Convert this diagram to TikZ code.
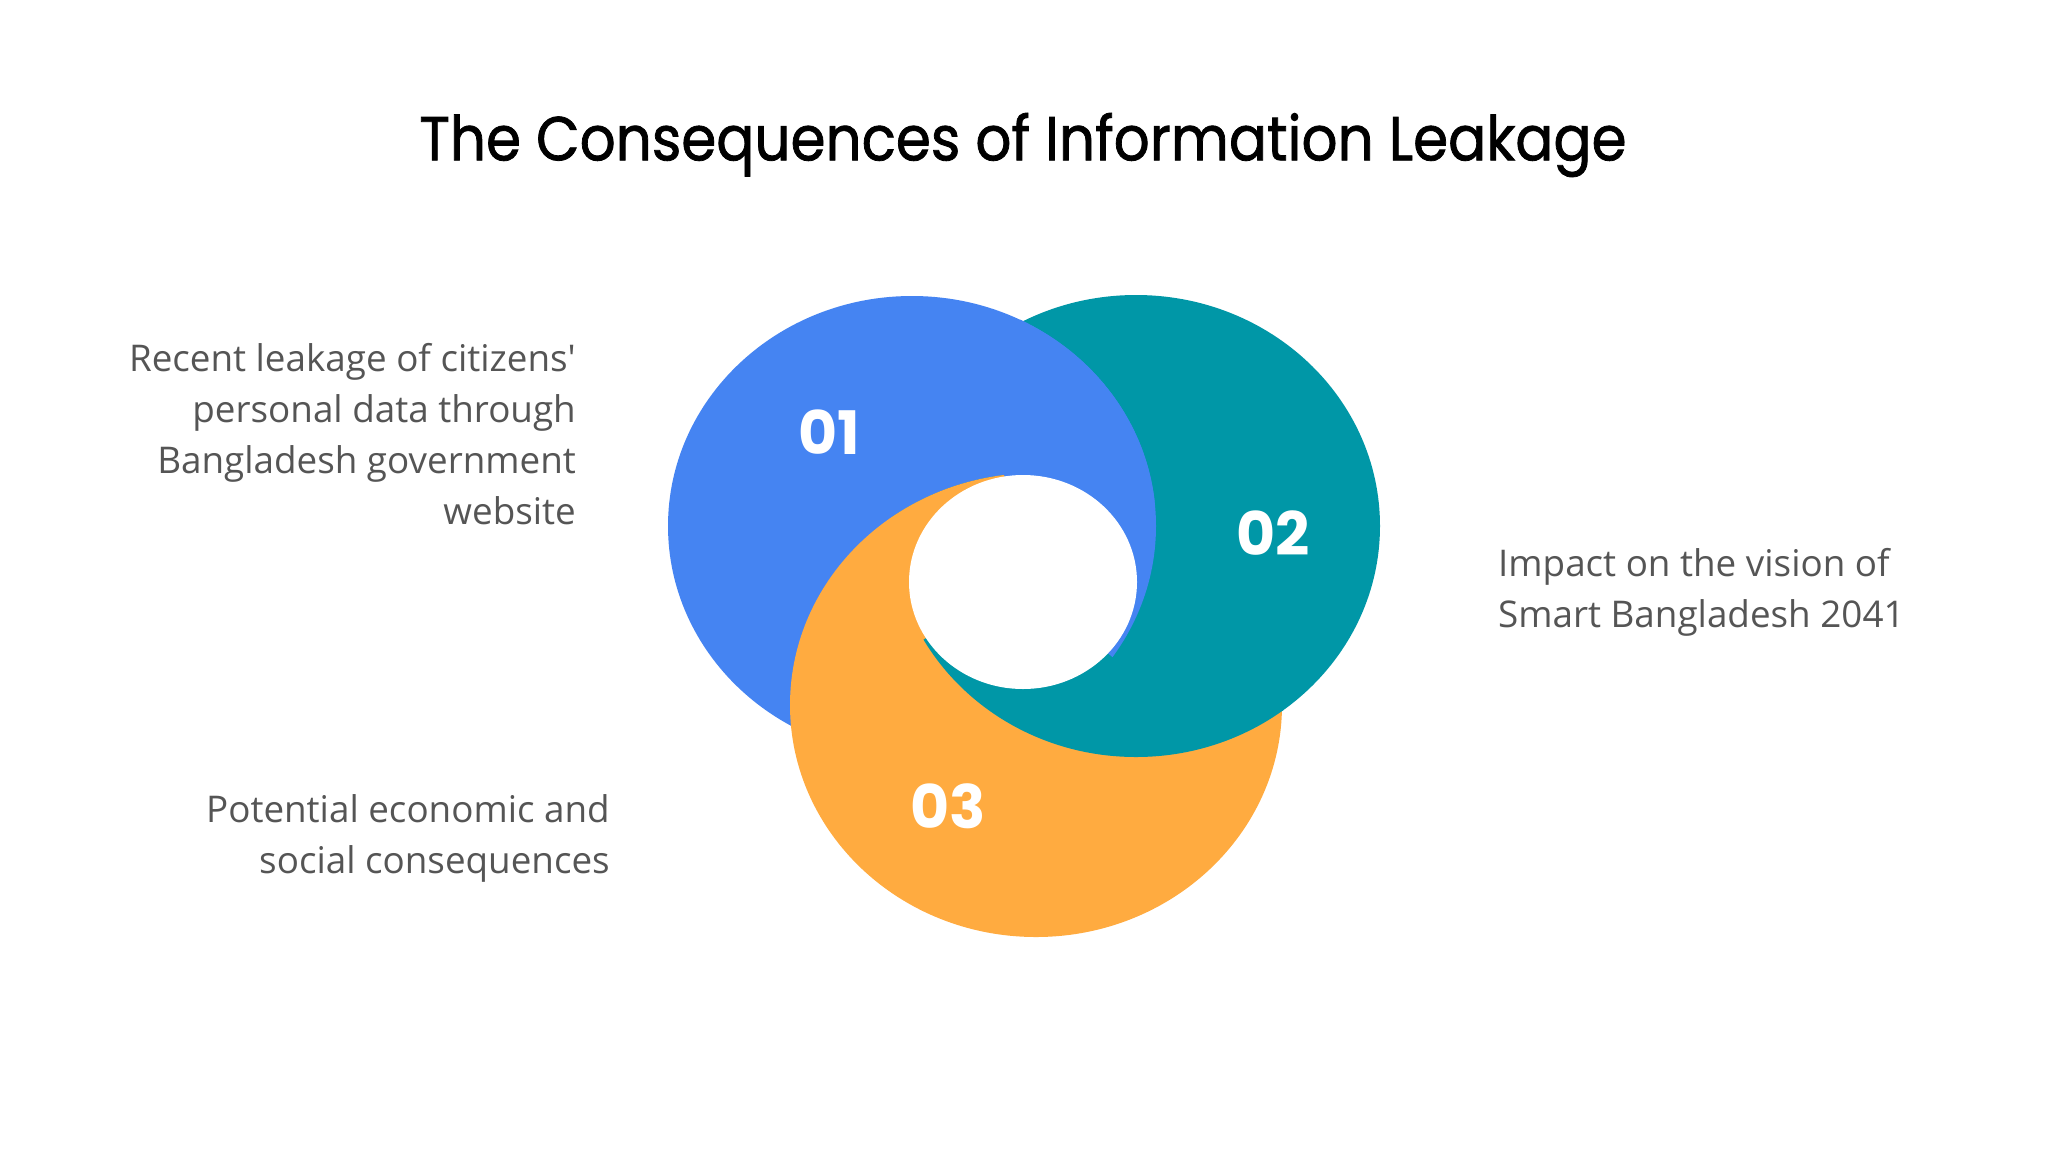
\documentclass[tikz,border=0pt]{standalone}
\usepackage{fontspec}
\newfontfamily\bodyfont{Open Sans}
\newfontfamily\titlefont{Poppins}[FakeBold=1.3]
\newfontfamily\numfont{Poppins}
\definecolor{blueC}{HTML}{4584F2}
\definecolor{tealC}{HTML}{0097A7}
\definecolor{orangeC}{HTML}{FFAB40}
\definecolor{txtC}{HTML}{555555}
\tikzset{
  bodytext/.style={text=txtC, inner sep=0pt, font=\bodyfont\fontsize{36.8}{51}\selectfont},
  numtext/.style={text=white, inner sep=0pt, font=\numfont\bfseries\fontsize{60}{60}\selectfont},
  titletext/.style={text=black, inner sep=0pt, font=\titlefont\fontsize{62}{72}\selectfont},
  blueell/.style={insert path={(912,526) ellipse [x radius=244, y radius=230]}},
  tealell/.style={insert path={(1136,526) ellipse [x radius=244, y radius=231]}},
  orangeell/.style={insert path={(1036,705) ellipse [x radius=246, y radius=232]}},
  tealplus/.style={insert path={(1136,526) ellipse [x radius=246.5, y radius=233.5]}},
  orangeplus/.style={insert path={(1036,705) ellipse [x radius=248.5, y radius=234.5]}},
  bluewedge/.style={insert path={[shift={(1023,582)}] (0,0) -- (260:1500) -- (330:1500) -- (400:1500) -- cycle}},
  orangewedge/.style={insert path={[shift={(1023,582)}] (0,0) -- (150:1500) -- (205:1500) -- (260:1500) -- cycle}},
}
\begin{document}
\begin{tikzpicture}[x=1pt,y=-1pt]
\useasboundingbox (0,0) rectangle (2048,1152);
\fill[white] (0,0) rectangle (2048,1152);
% S1-S3: base layers
\fill[blueC, blueell];
\fill[tealC, tealell];
\fill[orangeC, orangeell];
% S4: teal over orange
\begin{scope}
  \clip[orangeplus];
  \fill[tealC, tealell];
\end{scope}
% S5: blue over teal (outside orange, and in the upper-right sector)
\begin{scope}
  \clip[blueell];
  \clip[tealplus];
  \fill[blueC, even odd rule] (0,0) rectangle (2048,1152) (1036,705) ellipse [x radius=246, y radius=232];
\end{scope}
\begin{scope}
  \clip[blueell];
  \clip[tealplus];
  \fill[blueC, bluewedge];
\end{scope}
% S6: orange over blue and teal in the left sector
\begin{scope}
  \clip[blueell];
  \clip[tealplus];
  \clip[orangewedge];
  \fill[orangeC, orangeell];
\end{scope}
% central hole
\fill[white] (1023,582) ellipse [x radius=114, y radius=107];
% numbers
\node[numtext] (n1) at (829,432) {01};
\node[numtext] (n2) at (1273,533) {02};
\node[numtext] (n3) at (948,806) {03};
% title
\node[titletext] (title) at (1023,145) {\scalebox{0.91}[1]{The Consequences of Information Leakage}};
% texts
\node[bodytext, anchor=east, align=right] (t1) at (576,434) {Recent leakage of citizens'\\personal data through\\Bangladesh government\\website};
\node[bodytext, anchor=west, align=left] (t2) at (1498,592) {Impact on the vision of\\Smart Bangladesh 2041};
\node[bodytext, anchor=east, align=right] (t3) at (610,838) {Potential economic and\\social consequences};
\end{tikzpicture}
\end{document}
